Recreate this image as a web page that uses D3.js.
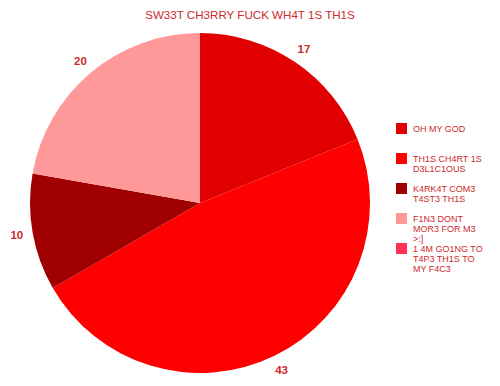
<!DOCTYPE html>
<html>
<head>
<meta charset="utf-8">
<script src="https://cdn.jsdelivr.net/npm/d3@7"></script>
<style>
  body { margin: 0; background: #fff; }
  svg { display: block; font-family: "Liberation Sans", Arial, sans-serif; }
</style>
</head>
<body>
<script>
var titleText = "SW33T CH3RRY FUCK WH4T 1S TH1S";
var categories = ["OH MY GOD", "TH1S CH4RT 1S D3L1C1OUS", "K4RK4T COM3 T4ST3 TH1S", "F1N3 DONT MOR3 FOR M3 >:]", "1 4M GO1NG TO T4P3 TH1S TO MY F4C3"];
var values = [17, 43, 10, 20, 0];
var colors = ["#e00000", "#ff0000", "#a00000", "#ff9999", "#ff3355"];

const w = 500;
const h = 386;
const textColor = "#cc2a2a";

var svg = d3.select("body").append("svg")
  .attr("width", w)
  .attr("height", h);

svg.append("text")
  .attr("x", 250)
  .attr("y", 19)
  .attr("text-anchor", "middle")
  .attr("font-size", 11.6)
  .attr("fill", textColor)
  .text(titleText);

var cx = 200, cy = 203, radius = 170;

var dataset = categories.map((c, i) => ({ name: c, value: values[i], color: colors[i] }));

var pie = d3.pie().value(d => d.value).sort(null);
var arc = d3.arc().innerRadius(0).outerRadius(radius);
var labelArc = d3.arc().innerRadius(186).outerRadius(186);

var g = svg.append("g").attr("transform", "translate(" + cx + "," + cy + ")");
var arcs = pie(dataset);

g.selectAll("path")
  .data(arcs.filter(d => d.data.value > 0))
  .enter()
  .append("path")
  .attr("d", arc)
  .attr("fill", d => d.data.color);

g.selectAll("text.lbl")
  .data(arcs.filter(d => d.data.value > 0))
  .enter()
  .append("text")
  .attr("class", "lbl")
  .attr("transform", d => "translate(" + labelArc.centroid(d) + ")")
  .attr("text-anchor", "middle")
  .attr("dy", "0.35em")
  .attr("font-size", 11.5)
  .attr("font-weight", "bold")
  .attr("fill", textColor)
  .text(d => d.data.value);

// legend
var legend = svg.append("g").attr("transform", "translate(396, 123)");
var maxW = 70;

dataset.forEach(function (d, i) {
  var item = legend.append("g").attr("transform", "translate(0," + (i * 30) + ")");
  item.append("rect")
    .attr("width", 11)
    .attr("height", 11)
    .attr("fill", d.color);
  var t = item.append("text")
    .attr("x", 17)
    .attr("y", 8.5)
    .attr("font-size", 9)
    .attr("fill", textColor);
  var words = d.name.split(" ");
  var line = [];
  var tspan = t.append("tspan").attr("x", 17).attr("dy", 0);
  words.forEach(function (word) {
    line.push(word);
    tspan.text(line.join(" "));
    if (tspan.node().getComputedTextLength() > maxW && line.length > 1) {
      line.pop();
      tspan.text(line.join(" "));
      line = [word];
      tspan = t.append("tspan").attr("x", 17).attr("dy", 10).text(word);
    }
  });
});
</script>
</body>
</html>
